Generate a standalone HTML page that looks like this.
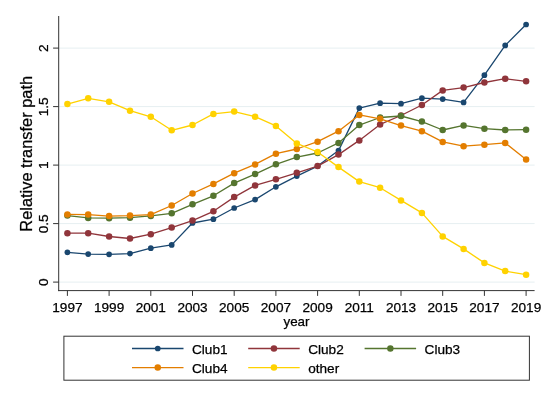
<!DOCTYPE html>
<html><head><meta charset="utf-8"><title>Relative transfer path</title>
<style>
html,body{margin:0;padding:0;background:#fff;}
svg{display:block;}
text{font-family:"Liberation Sans",Arial,sans-serif;fill:#000;stroke:#000;stroke-width:0.25px;}
</style></head><body>
<svg width="550" height="401" viewBox="0 0 550 401">
<rect x="0" y="0" width="550" height="401" fill="#ffffff"/>

<line x1="58.7" y1="282.1" x2="534.6" y2="282.1" stroke="#e6eff1" stroke-width="1"/>
<line x1="58.7" y1="223.6" x2="534.6" y2="223.6" stroke="#e6eff1" stroke-width="1"/>
<line x1="58.7" y1="165.1" x2="534.6" y2="165.1" stroke="#e6eff1" stroke-width="1"/>
<line x1="58.7" y1="106.6" x2="534.6" y2="106.6" stroke="#e6eff1" stroke-width="1"/>
<line x1="58.7" y1="48.1" x2="534.6" y2="48.1" stroke="#e6eff1" stroke-width="1"/>
<g fill="#1a476f" stroke="none"><polyline points="67.4,252.3 88.2,254.1 109.1,254.3 130.0,253.6 150.8,248.2 171.7,244.9 192.5,223.0 213.4,219.2 234.2,208.0 255.1,199.6 275.9,186.8 296.8,176.1 317.6,166.1 338.5,150.6 359.3,108.1 380.1,103.2 401.0,103.7 421.9,98.2 442.7,99.1 463.6,102.4 484.4,75.2 505.2,45.4 526.1,24.5" fill="none" stroke="#1a476f" stroke-width="1.3" stroke-linejoin="round"/>
<circle cx="67.4" cy="252.3" r="2.85"/>
<circle cx="88.2" cy="254.1" r="2.85"/>
<circle cx="109.1" cy="254.3" r="2.85"/>
<circle cx="130.0" cy="253.6" r="2.85"/>
<circle cx="150.8" cy="248.2" r="2.85"/>
<circle cx="171.7" cy="244.9" r="2.85"/>
<circle cx="192.5" cy="223.0" r="2.85"/>
<circle cx="213.4" cy="219.2" r="2.85"/>
<circle cx="234.2" cy="208.0" r="2.85"/>
<circle cx="255.1" cy="199.6" r="2.85"/>
<circle cx="275.9" cy="186.8" r="2.85"/>
<circle cx="296.8" cy="176.1" r="2.85"/>
<circle cx="317.6" cy="166.1" r="2.85"/>
<circle cx="338.5" cy="150.6" r="2.85"/>
<circle cx="359.3" cy="108.1" r="2.85"/>
<circle cx="380.1" cy="103.2" r="2.85"/>
<circle cx="401.0" cy="103.7" r="2.85"/>
<circle cx="421.9" cy="98.2" r="2.85"/>
<circle cx="442.7" cy="99.1" r="2.85"/>
<circle cx="463.6" cy="102.4" r="2.85"/>
<circle cx="484.4" cy="75.2" r="2.85"/>
<circle cx="505.2" cy="45.4" r="2.85"/>
<circle cx="526.1" cy="24.5" r="2.85"/>
</g>
<g fill="#90353b" stroke="none"><polyline points="67.4,233.2 88.2,233.2 109.1,236.5 130.0,238.5 150.8,234.2 171.7,227.6 192.5,220.6 213.4,211.3 234.2,197.1 255.1,185.4 275.9,179.3 296.8,172.8 317.6,166.1 338.5,154.6 359.3,140.4 380.1,124.4 401.0,115.5 421.9,105.0 442.7,90.4 463.6,87.6 484.4,82.5 505.2,78.7 526.1,81.3" fill="none" stroke="#90353b" stroke-width="1.3" stroke-linejoin="round"/>
<circle cx="67.4" cy="233.2" r="3.25"/>
<circle cx="88.2" cy="233.2" r="3.25"/>
<circle cx="109.1" cy="236.5" r="3.25"/>
<circle cx="130.0" cy="238.5" r="3.25"/>
<circle cx="150.8" cy="234.2" r="3.25"/>
<circle cx="171.7" cy="227.6" r="3.25"/>
<circle cx="192.5" cy="220.6" r="3.25"/>
<circle cx="213.4" cy="211.3" r="3.25"/>
<circle cx="234.2" cy="197.1" r="3.25"/>
<circle cx="255.1" cy="185.4" r="3.25"/>
<circle cx="275.9" cy="179.3" r="3.25"/>
<circle cx="296.8" cy="172.8" r="3.25"/>
<circle cx="317.6" cy="166.1" r="3.25"/>
<circle cx="338.5" cy="154.6" r="3.25"/>
<circle cx="359.3" cy="140.4" r="3.25"/>
<circle cx="380.1" cy="124.4" r="3.25"/>
<circle cx="401.0" cy="115.5" r="3.25"/>
<circle cx="421.9" cy="105.0" r="3.25"/>
<circle cx="442.7" cy="90.4" r="3.25"/>
<circle cx="463.6" cy="87.6" r="3.25"/>
<circle cx="484.4" cy="82.5" r="3.25"/>
<circle cx="505.2" cy="78.7" r="3.25"/>
<circle cx="526.1" cy="81.3" r="3.25"/>
</g>
<g fill="#55752f" stroke="none"><polyline points="67.4,215.6 88.2,217.9 109.1,218.2 130.0,217.7 150.8,215.9 171.7,213.3 192.5,204.3 213.4,195.8 234.2,183.1 255.1,174.1 275.9,164.3 296.8,157.1 317.6,153.0 338.5,142.9 359.3,125.1 380.1,117.5 401.0,116.0 421.9,121.6 442.7,130.0 463.6,125.4 484.4,128.7 505.2,130.0 526.1,129.7" fill="none" stroke="#55752f" stroke-width="1.3" stroke-linejoin="round"/>
<circle cx="67.4" cy="215.6" r="3.25"/>
<circle cx="88.2" cy="217.9" r="3.25"/>
<circle cx="109.1" cy="218.2" r="3.25"/>
<circle cx="130.0" cy="217.7" r="3.25"/>
<circle cx="150.8" cy="215.9" r="3.25"/>
<circle cx="171.7" cy="213.3" r="3.25"/>
<circle cx="192.5" cy="204.3" r="3.25"/>
<circle cx="213.4" cy="195.8" r="3.25"/>
<circle cx="234.2" cy="183.1" r="3.25"/>
<circle cx="255.1" cy="174.1" r="3.25"/>
<circle cx="275.9" cy="164.3" r="3.25"/>
<circle cx="296.8" cy="157.1" r="3.25"/>
<circle cx="317.6" cy="153.0" r="3.25"/>
<circle cx="338.5" cy="142.9" r="3.25"/>
<circle cx="359.3" cy="125.1" r="3.25"/>
<circle cx="380.1" cy="117.5" r="3.25"/>
<circle cx="401.0" cy="116.0" r="3.25"/>
<circle cx="421.9" cy="121.6" r="3.25"/>
<circle cx="442.7" cy="130.0" r="3.25"/>
<circle cx="463.6" cy="125.4" r="3.25"/>
<circle cx="484.4" cy="128.7" r="3.25"/>
<circle cx="505.2" cy="130.0" r="3.25"/>
<circle cx="526.1" cy="129.7" r="3.25"/>
</g>
<g fill="#e37e00" stroke="none"><polyline points="67.4,214.4 88.2,214.6 109.1,216.1 130.0,215.6 150.8,214.6 171.7,205.5 192.5,193.5 213.4,183.9 234.2,173.2 255.1,164.4 275.9,153.7 296.8,149.0 317.6,141.7 338.5,131.2 359.3,114.9 380.1,118.8 401.0,125.6 421.9,131.2 442.7,141.9 463.6,146.2 484.4,144.7 505.2,142.9 526.1,159.5" fill="none" stroke="#e37e00" stroke-width="1.3" stroke-linejoin="round"/>
<circle cx="67.4" cy="214.4" r="3.25"/>
<circle cx="88.2" cy="214.6" r="3.25"/>
<circle cx="109.1" cy="216.1" r="3.25"/>
<circle cx="130.0" cy="215.6" r="3.25"/>
<circle cx="150.8" cy="214.6" r="3.25"/>
<circle cx="171.7" cy="205.5" r="3.25"/>
<circle cx="192.5" cy="193.5" r="3.25"/>
<circle cx="213.4" cy="183.9" r="3.25"/>
<circle cx="234.2" cy="173.2" r="3.25"/>
<circle cx="255.1" cy="164.4" r="3.25"/>
<circle cx="275.9" cy="153.7" r="3.25"/>
<circle cx="296.8" cy="149.0" r="3.25"/>
<circle cx="317.6" cy="141.7" r="3.25"/>
<circle cx="338.5" cy="131.2" r="3.25"/>
<circle cx="359.3" cy="114.9" r="3.25"/>
<circle cx="380.1" cy="118.8" r="3.25"/>
<circle cx="401.0" cy="125.6" r="3.25"/>
<circle cx="421.9" cy="131.2" r="3.25"/>
<circle cx="442.7" cy="141.9" r="3.25"/>
<circle cx="463.6" cy="146.2" r="3.25"/>
<circle cx="484.4" cy="144.7" r="3.25"/>
<circle cx="505.2" cy="142.9" r="3.25"/>
<circle cx="526.1" cy="159.5" r="3.25"/>
</g>
<g fill="#ffd200" stroke="none"><polyline points="67.4,104.1 88.2,98.3 109.1,101.8 130.0,110.7 150.8,116.8 171.7,130.3 192.5,125.0 213.4,113.9 234.2,111.6 255.1,116.7 275.9,125.9 296.8,143.4 317.6,152.0 338.5,167.1 359.3,181.6 380.1,187.7 401.0,200.4 421.9,212.9 442.7,236.4 463.6,248.9 484.4,262.9 505.2,271.1 526.1,274.7" fill="none" stroke="#ffd200" stroke-width="1.3" stroke-linejoin="round"/>
<circle cx="67.4" cy="104.1" r="3.25"/>
<circle cx="88.2" cy="98.3" r="3.25"/>
<circle cx="109.1" cy="101.8" r="3.25"/>
<circle cx="130.0" cy="110.7" r="3.25"/>
<circle cx="150.8" cy="116.8" r="3.25"/>
<circle cx="171.7" cy="130.3" r="3.25"/>
<circle cx="192.5" cy="125.0" r="3.25"/>
<circle cx="213.4" cy="113.9" r="3.25"/>
<circle cx="234.2" cy="111.6" r="3.25"/>
<circle cx="255.1" cy="116.7" r="3.25"/>
<circle cx="275.9" cy="125.9" r="3.25"/>
<circle cx="296.8" cy="143.4" r="3.25"/>
<circle cx="317.6" cy="152.0" r="3.25"/>
<circle cx="338.5" cy="167.1" r="3.25"/>
<circle cx="359.3" cy="181.6" r="3.25"/>
<circle cx="380.1" cy="187.7" r="3.25"/>
<circle cx="401.0" cy="200.4" r="3.25"/>
<circle cx="421.9" cy="212.9" r="3.25"/>
<circle cx="442.7" cy="236.4" r="3.25"/>
<circle cx="463.6" cy="248.9" r="3.25"/>
<circle cx="484.4" cy="262.9" r="3.25"/>
<circle cx="505.2" cy="271.1" r="3.25"/>
<circle cx="526.1" cy="274.7" r="3.25"/>
</g>
<g stroke="#333" stroke-width="1" fill="none">
<line x1="58.7" y1="16" x2="58.7" y2="291.1"/>
<line x1="58.2" y1="290.6" x2="534.6" y2="290.6"/>
<line x1="53.1" y1="282.1" x2="58.7" y2="282.1"/>
<line x1="53.1" y1="223.6" x2="58.7" y2="223.6"/>
<line x1="53.1" y1="165.1" x2="58.7" y2="165.1"/>
<line x1="53.1" y1="106.6" x2="58.7" y2="106.6"/>
<line x1="53.1" y1="48.1" x2="58.7" y2="48.1"/>
<line x1="67.4" y1="290.6" x2="67.4" y2="295.90000000000003"/>
<line x1="109.1" y1="290.6" x2="109.1" y2="295.90000000000003"/>
<line x1="150.8" y1="290.6" x2="150.8" y2="295.90000000000003"/>
<line x1="192.5" y1="290.6" x2="192.5" y2="295.90000000000003"/>
<line x1="234.2" y1="290.6" x2="234.2" y2="295.90000000000003"/>
<line x1="275.9" y1="290.6" x2="275.9" y2="295.90000000000003"/>
<line x1="317.6" y1="290.6" x2="317.6" y2="295.90000000000003"/>
<line x1="359.3" y1="290.6" x2="359.3" y2="295.90000000000003"/>
<line x1="401.0" y1="290.6" x2="401.0" y2="295.90000000000003"/>
<line x1="442.7" y1="290.6" x2="442.7" y2="295.90000000000003"/>
<line x1="484.4" y1="290.6" x2="484.4" y2="295.90000000000003"/>
<line x1="526.1" y1="290.6" x2="526.1" y2="295.90000000000003"/>
</g>
<text transform="translate(47.7,282.3) rotate(-90)" text-anchor="middle" font-size="13.7">0</text>
<text transform="translate(47.7,223.8) rotate(-90)" text-anchor="middle" font-size="13.7">0.5</text>
<text transform="translate(47.7,165.3) rotate(-90)" text-anchor="middle" font-size="13.7">1</text>
<text transform="translate(47.7,106.8) rotate(-90)" text-anchor="middle" font-size="13.7">1.5</text>
<text transform="translate(47.7,48.3) rotate(-90)" text-anchor="middle" font-size="13.7">2</text>
<text x="67.4" y="311.9" text-anchor="middle" font-size="13.6">1997</text>
<text x="109.1" y="311.9" text-anchor="middle" font-size="13.6">1999</text>
<text x="150.8" y="311.9" text-anchor="middle" font-size="13.6">2001</text>
<text x="192.5" y="311.9" text-anchor="middle" font-size="13.6">2003</text>
<text x="234.2" y="311.9" text-anchor="middle" font-size="13.6">2005</text>
<text x="275.9" y="311.9" text-anchor="middle" font-size="13.6">2007</text>
<text x="317.6" y="311.9" text-anchor="middle" font-size="13.6">2009</text>
<text x="359.3" y="311.9" text-anchor="middle" font-size="13.6">2011</text>
<text x="401.0" y="311.9" text-anchor="middle" font-size="13.6">2013</text>
<text x="442.7" y="311.9" text-anchor="middle" font-size="13.6">2015</text>
<text x="484.4" y="311.9" text-anchor="middle" font-size="13.6">2017</text>
<text x="526.1" y="311.9" text-anchor="middle" font-size="13.6">2019</text>
<text x="296.5" y="325.6" text-anchor="middle" font-size="13.4">year</text>
<text transform="translate(32.2,153.8) rotate(-90)" text-anchor="middle" font-size="16.4">Relative transfer path</text>
<rect x="63.9" y="336.2" width="465.5" height="44" fill="#fff" stroke="#333" stroke-width="1"/>
<line x1="132" y1="348.5" x2="183.5" y2="348.5" stroke="#1a476f" stroke-width="1.3"/><circle cx="157.75" cy="348.5" r="2.85" fill="#1a476f"/>
<text x="192" y="354.0" font-size="13.6">Club1</text>
<line x1="248.2" y1="348.5" x2="299.7" y2="348.5" stroke="#90353b" stroke-width="1.3"/><circle cx="273.95" cy="348.5" r="3.25" fill="#90353b"/>
<text x="308.2" y="354.0" font-size="13.6">Club2</text>
<line x1="364.6" y1="348.5" x2="416.1" y2="348.5" stroke="#55752f" stroke-width="1.3"/><circle cx="390.35" cy="348.5" r="3.25" fill="#55752f"/>
<text x="424.6" y="354.0" font-size="13.6">Club3</text>
<line x1="132" y1="367.6" x2="183.5" y2="367.6" stroke="#e37e00" stroke-width="1.3"/><circle cx="157.75" cy="367.6" r="3.25" fill="#e37e00"/>
<text x="192" y="373.1" font-size="13.6">Club4</text>
<line x1="248.2" y1="367.6" x2="299.7" y2="367.6" stroke="#ffd200" stroke-width="1.3"/><circle cx="273.95" cy="367.6" r="3.25" fill="#ffd200"/>
<text x="308.2" y="373.1" font-size="13.6">other</text>
</svg></body></html>
